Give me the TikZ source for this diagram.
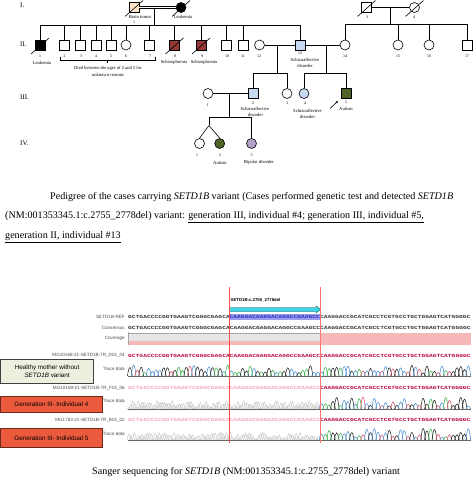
\documentclass[tikz,border=0pt]{standalone}
\usepackage{fontspec}
\usepackage{graphicx}
\setmainfont{Liberation Serif}
\newfontfamily\arialf{Liberation Sans}
\newfontfamily\seqf{Liberation Mono}
\usetikzlibrary{arrows.meta}
\definecolor{beige}{HTML}{FCE4C8}
\definecolor{dred}{HTML}{953735}
\definecolor{lblue}{HTML}{C6D9F1}
\definecolor{pedgreen}{HTML}{4F6228}
\definecolor{lav}{HTML}{B3A2C7}
\definecolor{tA}{HTML}{3CB44B}
\definecolor{tC}{HTML}{4A8FD0}
\definecolor{tG}{HTML}{222222}
\definecolor{tT}{HTML}{E0506A}
\definecolor{seqred}{HTML}{B8003C}
\definecolor{seqpink}{HTML}{F3A6BC}
\definecolor{boxred}{HTML}{EB5A3C}
\definecolor{boxgreen}{HTML}{EBF1DE}
\definecolor{covpink}{HTML}{F6B8B8}
\definecolor{covgray}{HTML}{E6E6E6}
\definecolor{hlpurple}{HTML}{9C9CF2}
\definecolor{hlblue}{HTML}{2E2EB8}
\definecolor{arrcyan}{HTML}{3FD3E6}
\newcommand\seqt[1]{\scalebox{1}[0.75]{#1}}
\tikzset{
 pline/.style={line width=0.6pt},
 psq/.style={draw, line width=0.6pt, minimum size=10pt, inner sep=0, fill=white},
 pci/.style={draw, circle, line width=0.6pt, minimum size=10pt, inner sep=0, fill=white},
 plab/.style={inner sep=0, font=\fontsize{4.6}{5}\selectfont},
 pnum/.style={inner sep=0, font=\fontsize{4}{5}\selectfont},
 gen/.style={inner sep=0, anchor=west, font=\fontsize{7}{8}\selectfont},
 captx/.style={inner sep=0, anchor=west, font=\fontsize{10.1}{12}\selectfont},
 seqtx/.style={inner sep=0, anchor=west, font=\seqf\bfseries\fontsize{6.27}{7}\selectfont},
 slab/.style={inner sep=0, anchor=east, text=black!70, font=\arialf\fontsize{4.6}{5}\selectfont},
 gbox/.style={draw=black!75, line width=0.7pt, anchor=north west, inner sep=0, align=center, font=\arialf\fontsize{6.3}{8.5}\selectfont},
 peak/.style={line width=0.55pt},
 npeak/.style={line width=0.45pt, color=gray!45},
}
\begin{document}
\begin{tikzpicture}[x=1pt,y=-1pt]
\useasboundingbox (0,0) rectangle (474,481);
\fill[white] (0,0) rectangle (474,481);
% generation labels
\node[gen] (gI) at (20,5.5) {I.};
\node[gen] (gII) at (20,44) {II.};
\node[gen] (gIII) at (20,97) {III.};
\node[gen] (gIV) at (20,143) {IV.};
% ---------- pedigree nodes
\node[psq, fill=beige] (I1) at (134,7.5) {};
\node[pci, fill=black] (I2) at (181,7.5) {};
\node[psq] (I3) at (366.5,7.5) {};
\node[pci] (I4) at (414.5,7.5) {};
\node[psq, fill=black] (II1) at (40,45) {};
\node[psq] (II2) at (64.5,45) {};
\node[psq] (II3) at (80.5,45) {};
\node[psq] (II4) at (96.5,45) {};
\node[psq] (II5) at (111.5,45) {};
\node[pci] (II6) at (126,45) {};
\node[psq] (II7) at (149.5,45) {};
\node[psq, fill=dred] (II8) at (174.5,45) {};
\node[psq, fill=dred] (II9) at (201,45) {};
\node[psq] (II10) at (226,45) {};
\node[psq] (II11) at (243,45) {};
\node[pci] (II12) at (259.5,45) {};
\node[psq, fill=lblue] (II13) at (300,45) {};
\node[pci] (II14) at (345,45) {};
\node[pci] (II15) at (398,45) {};
\node[pci] (II16) at (429,45) {};
\node[psq] (II17) at (467.5,45) {};
\node[pci] (III1) at (208,93.5) {};
\node[psq, fill=lblue] (III2) at (253,93.5) {};
\node[pci] (III3) at (287,93.5) {};
\node[pci, fill=lblue] (III4) at (304,93.5) {};
\node[psq, fill=pedgreen] (III5) at (346,93.5) {};
\node[pci] (IV1) at (199.5,143.5) {};
\node[pci, fill=pedgreen] (IV2) at (219.7,143.5) {};
\node[pci, fill=lav] (IV3) at (251.5,143.5) {};
% ---------- connectors
\draw[pline, double, double distance=1.6pt] (I1) -- (I2);
\coordinate (dI12) at (154,8.6);
\coordinate (sI12) at (154,25);
\draw[pline] (dI12) -- (sI12);
\draw[pline] (II1.north |- sI12) -- (II13.north |- sI12);
\foreach \k in {II1,II2,II3,II4,II5,II6,II7,II8,II9,II10,II11,II13}
  \draw[pline] (\k.north) -- (\k.north |- sI12);
\draw[pline] (I3) -- (I4);
\coordinate (dI34) at (390,7.5);
\coordinate (sI34) at (390,24);
\draw[pline] (dI34) -- (sI34);
\draw[pline] (II14.north |- sI34) -- (II17.north |- sI34);
\foreach \k in {II14,II15,II16,II17}
  \draw[pline] (\k.north) -- (\k.north |- sI34);
\draw[pline] (II12) -- (II13);
\draw[pline] (II13) -- (II14);
\coordinate (d1213) at (277,45);
\coordinate (s1213) at (277,73);
\draw[pline] (d1213) -- (s1213);
\draw[pline] (III2.north) -- (III2.north |- s1213) -- (III3.north |- s1213) -- (III3.north);
\coordinate (d1314) at (326,45);
\coordinate (s1314) at (326,73);
\draw[pline] (d1314) -- (s1314);
\draw[pline] (III4.north) -- (III4.north |- s1314) -- (III5.north |- s1314) -- (III5.north);
\draw[pline] (III1) -- (III2);
\coordinate (dIII) at (229,93.5);
\coordinate (sIII) at (229,117);
\draw[pline] (dIII) -- (sIII);
\coordinate (twL) at (209,117);
\coordinate (twA) at (209,125.5);
\draw[pline] (twL) -- (IV3.north |- sIII) -- (IV3.north);
\draw[pline] (twL) -- (twA);
\draw[pline] (twA) -- (IV1.north);
\draw[pline] (twA) -- (IV2.north);
% deceased slashes
\foreach \k in {I1,I2,I3,I4,II1,II8,II9}
  \draw[pline] (\k) ++(-9,9) -- ++(18,-16);
% proband arrow
\draw[pline, -{Stealth[length=2.5pt,width=2.2pt]}] (III5) ++(-16,15) -- ++(8,-7.5);
% ---------- pedigree labels
\node[plab] (tI1a) at (140,17) {Brain tumor};
\node[pnum] (tI1b) at (134,22) {1};
\node[plab] (tI2a) at (183,16.5) {Leukemia};
\node[pnum] (tI3) at (367,17.5) {3};
\node[pnum] (tI4) at (414,17.5) {4};
\foreach \k/\x in {1/40,2/64.5,3/81,4/96,5/111,6/126,7/150,8/175,9/202,10/227,11/243,12/259,14/345,15/398,16/429,17/467}
  \node[pnum] (nII\k) at (\x,56.5) {\k};
\node[pnum] (nII13) at (300,53.5) {13};
\node[plab] (tII1) at (42,62.5) {Leukemia};
\node[plab] (tII8) at (174,62.5) {Schizophrenia};
\node[plab] (tII9) at (204,62.5) {Schizophrenia};
\node[plab] (tII13a) at (305,59.5) {Schizoaffective};
\node[plab] (tII13b) at (305,65.5) {disorder};
\draw[line width=0.45pt] (60,57) -- (60,60.5) -- (155,60.5) -- (155,57);
\draw[line width=0.45pt] (107.5,60.5) -- (107.5,63.5);
\node[plab] (tdied1) at (108,68) {Died between the ages of 2 and 5 for};
\node[plab] (tdied2) at (108,75) {unknown reasons};
\node[pnum] (nIII1) at (207.5,105.5) {1};
\node[pnum] (nIII2) at (253,103) {2};
\node[plab] (tIII2a) at (255,109) {Schizoaffective};
\node[plab] (tIII2b) at (255.5,114.5) {disorder};
\node[pnum] (nIII3) at (287,103.5) {3};
\node[pnum] (nIII4) at (305,103.5) {4};
\node[plab] (tIII4a) at (307.5,110.5) {Schizoaffective};
\node[plab] (tIII4b) at (307.5,116.5) {disorder};
\node[pnum] (nIII5) at (346,102) {5};
\node[plab] (tIII5) at (346,109) {Autism};
\node[pnum] (nIV1) at (197,155) {1};
\node[pnum] (nIV2) at (220,155) {2};
\node[plab] (tIV2) at (220,162.5) {Autism};
\node[pnum] (nIV3) at (251.5,155) {3};
\node[plab] (tIV3) at (259,162.5) {Bipolar disorder};
% ---------- caption 1
\node[captx] (cap1) at (50,197) {Pedigree of the cases carrying \textit{SETD1B} variant (Cases performed genetic test and detected \textit{SETD1B}};
\node[captx] (cap2) at (5,217.5) {(NM:001353345.1:c.2755\_2778del) variant: \underline{generation III, individual \#4; generation III, individual \#5,}};
\node[captx] (cap3) at (5,237.5) {\underline{generation II, individual \#13}};
% ---------- Sanger panel
\node[inner sep=0, anchor=west, font=\arialf\bfseries\fontsize{4.3}{5}\selectfont] (vlab) at (230.5,300) {SETD1B:c.2755\_2778del};
\draw[fill=arrcyan, draw=teal!70!black, line width=0.4pt] (229.5,307.5) -- (316,307.5) -- (316,306) -- (320.5,309.5) -- (316,313) -- (316,311.5) -- (229.5,311.5) -- cycle;
\fill[hlpurple] (229.5,314) rectangle (319.8,320.2);
\node[seqtx, text=black!80] (refA) at (128,317) {\seqt{GCTGACCCCGGTGAAGTCGGGCGAGCA}};
\node[seqtx, text=hlblue] (refB) at (229.5,317) {\seqt{CAAGGACGAGGACAGGCCGAAGCC}};
\node[seqtx, text=black!80] (refC) at (319.8,317) {\seqt{CAAGGACCGCATCGCCTCGTGCCTGCTGGAGTCATGGGGC}};
\node[seqtx, text=black!80] (cons) at (128,328) {\seqt{GCTGACCCCGGTGAAGTCGGGCGAGCACAAGGACGAGGACAGGCCGAAGCCCAAGGACCGCATCGCCTCGTGCCTGCTGGAGTCATGGGGC}};
% coverage
\fill[covgray] (128,333) rectangle (319.8,341);
\fill[covpink] (128,341) rectangle (470.5,345);
\fill[covpink] (319.8,333) rectangle (470.5,341);
\draw[gray!70, line width=0.4pt] (128,333) -- (319.8,333);
\draw[gray!70, line width=0.4pt] (128,332) -- (128,345);
% sample A
\node[seqtx, text=seqred] (sqA) at (128,355.5) {\seqt{GCTGACCCCGGTGAAGTCGGGCGAGCACAAGGACGAGGACAGGCCGAAGCCCAAGGACCGCATCGCCTCGTGCCTGCTGGAGTCATGGGGC}};
\pgfmathsetseed{11}
\foreach \nb [count=\ii from 0] in {G,C,T,G,A,C,C,C,C,G,G,T,G,A,A,G,T,C,G,G,G,C,G,A,G,C,A,C,A,A,G,G,A,C,G,A,G,G,A,C,A,G,G,C,C,G,A,A,G,C,C,C,A,A,G,G,A,C,C,G,C,A,T,C,G,C,C,T,C,G,T,G,C,C,T,G,C,T,G,G,A,G,T,C,A,T,G,G,G,G,C} {
  \pgfmathsetmacro\xc{129.88+\ii*3.76}
  \pgfmathsetmacro\hh{4+11*rnd}
  \draw[peak, color=t\nb] (\xc-2.4,376) .. controls (\xc-0.9,376-\hh) and (\xc+0.9,376-\hh) .. (\xc+2.4,376);
}
\draw[black!60, line width=0.4pt] (128,376) -- (470.5,376);
% sample B
\node[seqtx, text=seqpink] (sqB1) at (128,387.5) {\seqt{GCTGACCCCGGTGAAGTCGGGCGAGCACAAGGACGAGGACAGGCCGAAGCC}};
\node[seqtx, text=seqred] (sqB2) at (319.8,387.5) {\seqt{CAAGGACCGCATCGCCTCGTGCCTGCTGGAGTCATGGGGC}};
\pgfmathsetseed{23}
\foreach \ii in {0,...,101} {
  \pgfmathsetmacro\xc{128.9+\ii*1.88}
  \pgfmathsetmacro\hh{2+9*rnd}
  \draw[npeak] (\xc-1.8,409) .. controls (\xc-0.6,409-\hh) and (\xc+0.6,409-\hh) .. (\xc+1.8,409);
}
\foreach \nb [count=\ii from 51] in {C,A,A,G,G,A,C,C,G,C,A,T,C,G,C,C,T,C,G,T,G,C,C,T,G,C,T,G,G,A,G,T,C,A,T,G,G,G,G,C} {
  \pgfmathsetmacro\xc{129.88+\ii*3.76}
  \pgfmathsetmacro\hh{4+12*rnd}
  \draw[peak, color=t\nb] (\xc-2.4,409) .. controls (\xc-0.9,409-\hh) and (\xc+0.9,409-\hh) .. (\xc+2.4,409);
}
\draw[black!60, line width=0.4pt] (128,409) -- (470.5,409);
% sample C
\node[seqtx, text=seqpink] (sqC1) at (128,419.5) {\seqt{GCTGACCCCGGTGAAGTCGGGCGAGCACAAGGACGAGGACAGGCCGAAGCC}};
\node[seqtx, text=seqred] (sqC2) at (319.8,419.5) {\seqt{CAAGGACCGCATCGCCTCGTGCCTGCTGGAGTCATGGGGC}};
\pgfmathsetseed{37}
\foreach \ii in {0,...,101} {
  \pgfmathsetmacro\xc{128.9+\ii*1.88}
  \pgfmathsetmacro\hh{2+9*rnd}
  \draw[npeak] (\xc-1.8,440.5) .. controls (\xc-0.6,440.5-\hh) and (\xc+0.6,440.5-\hh) .. (\xc+1.8,440.5);
}
\foreach \nb [count=\ii from 51] in {C,A,A,G,G,A,C,C,G,C,A,T,C,G,C,C,T,C,G,T,G,C,C,T,G,C,T,G,G,A,G,T,C,A,T,G,G,G,G,C} {
  \pgfmathsetmacro\xc{129.88+\ii*3.76}
  \pgfmathsetmacro\hh{4+12*rnd}
  \draw[peak, color=t\nb] (\xc-2.4,440.5) .. controls (\xc-0.9,440.5-\hh) and (\xc+0.9,440.5-\hh) .. (\xc+2.4,440.5);
}
\draw[black!60, line width=0.4pt] (128,440.5) -- (470.5,440.5);
% red cut lines
\draw[red!70, line width=0.5pt] (229.5,287) -- (229.5,443);
\draw[red!55, line width=0.5pt] (319.8,287) -- (319.8,443);
% left labels
\node[slab] (lref) at (125,317) {SETD1B-REF};
\node[slab] (lcons) at (125,328) {Consensus};
\node[slab] (lcov) at (125,338) {Coverage};
\node[slab] (lA) at (125,355.5) {MG10168-21-SETD1B-7R\_D01\_04};
\node[slab] (lAt) at (125,369) {Trace data};
\node[slab] (lB) at (125,388) {MG10169-21-SETD1B-7R\_F01\_06};
\node[slab] (lBt) at (125,401) {Trace data};
\node[slab] (lC) at (125,420.5) {MG1783-21-SETD1B-7R\_B01\_02};
\node[slab] (lCt) at (125,434) {Trace data};
% boxes
\node[gbox, fill=boxgreen, minimum width=92.5pt, minimum height=24pt] (bx1) at (0.5,359) {Healthy mother without\\\textit{SETD1B} variant};
\node[gbox, draw=black!55!boxred, fill=boxred, minimum width=101pt, minimum height=16pt] (bx2) at (0.5,396) {Generation III- Individual 4};
\node[gbox, draw=black!55!boxred, fill=boxred, minimum width=101pt, minimum height=19pt] (bx3) at (0.5,428) {Generation III- Individual 5};
% caption 2
\node[captx] (cap4) at (92,472) {Sanger sequencing for \textit{SETD1B} (NM:001353345.1:c.2755\_2778del) variant};
\end{tikzpicture}
\end{document}
